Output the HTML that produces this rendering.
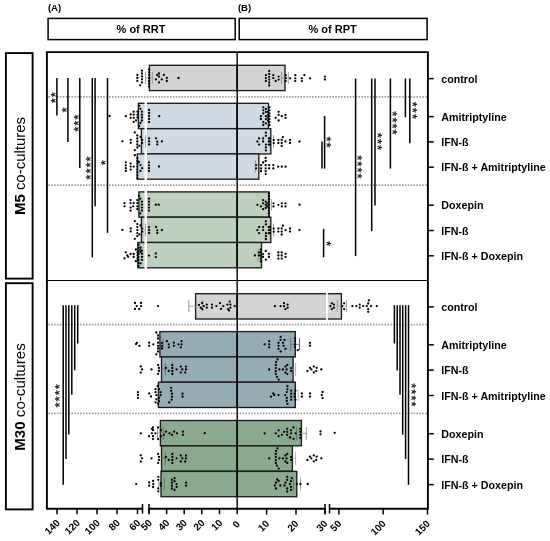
<!DOCTYPE html><html><head><meta charset="utf-8"><title>Figure</title><style>html,body{margin:0;padding:0;background:#fff;}svg{display:block;}text{font-family:'Liberation Sans', Arial, Helvetica, sans-serif;}</style></head><body>
<svg width="550" height="541" viewBox="0 0 550 541">
<rect width="550" height="541" fill="#fff"/>
<text x="47.9" y="10.6" font-size="9.6" font-weight="bold">(A)</text>
<text x="237.9" y="10.6" font-size="9.6" font-weight="bold">(B)</text>
<rect x="48.1" y="18.4" width="187.1" height="21.2" fill="none" stroke="#000" stroke-width="1.5"/>
<rect x="239.2" y="18.4" width="187.9" height="21.2" fill="none" stroke="#000" stroke-width="1.5"/>
<text x="141.0" y="33.2" font-size="11" font-weight="bold" text-anchor="middle">% of RRT</text>
<text x="332.6" y="33.2" font-size="11" font-weight="bold" text-anchor="middle">% of RPT</text>
<rect x="5.9" y="53.1" width="26.7" height="225.5" fill="none" stroke="#000" stroke-width="1.9"/>
<rect x="5.9" y="283.2" width="26.7" height="226.2" fill="none" stroke="#000" stroke-width="1.9"/>
<text transform="translate(25.0,166.0) rotate(-90) scale(1.055,1)" font-size="14.2" text-anchor="middle"><tspan font-weight="bold">M5</tspan> co-cultures</text>
<text transform="translate(25.0,397.0) rotate(-90) scale(1.065,1)" font-size="14.2" text-anchor="middle"><tspan font-weight="bold">M30</tspan> co-cultures</text>
<rect x="149.4" y="65.3" width="87.8" height="25.3" fill="#d4d4d4" stroke="#1c1c1c" stroke-width="1.35"/>
<rect x="237.2" y="65.3" width="47.8" height="25.3" fill="#d4d4d4" stroke="#1c1c1c" stroke-width="1.35"/>
<rect x="138.4" y="103.3" width="98.8" height="25.3" fill="#d0dae2" stroke="#1c1c1c" stroke-width="1.35"/>
<rect x="237.2" y="103.3" width="31.2" height="25.3" fill="#d0dae2" stroke="#1c1c1c" stroke-width="1.35"/>
<rect x="141.4" y="128.7" width="95.8" height="25.3" fill="#d0dae2" stroke="#1c1c1c" stroke-width="1.35"/>
<rect x="237.2" y="128.7" width="33.6" height="25.3" fill="#d0dae2" stroke="#1c1c1c" stroke-width="1.35"/>
<rect x="137.3" y="153.9" width="99.9" height="25.3" fill="#d0dae2" stroke="#1c1c1c" stroke-width="1.35"/>
<rect x="237.2" y="153.9" width="21.6" height="25.3" fill="#d0dae2" stroke="#1c1c1c" stroke-width="1.35"/>
<rect x="138.9" y="191.9" width="98.3" height="25.3" fill="#bdcfbd" stroke="#1c1c1c" stroke-width="1.35"/>
<rect x="237.2" y="191.9" width="31.9" height="25.3" fill="#bdcfbd" stroke="#1c1c1c" stroke-width="1.35"/>
<rect x="141.4" y="217.2" width="95.8" height="25.3" fill="#bdcfbd" stroke="#1c1c1c" stroke-width="1.35"/>
<rect x="237.2" y="217.2" width="33.6" height="25.3" fill="#bdcfbd" stroke="#1c1c1c" stroke-width="1.35"/>
<rect x="137.8" y="242.5" width="99.4" height="25.3" fill="#bdcfbd" stroke="#1c1c1c" stroke-width="1.35"/>
<rect x="237.2" y="242.5" width="24.3" height="25.3" fill="#bdcfbd" stroke="#1c1c1c" stroke-width="1.35"/>
<rect x="195.6" y="293.7" width="41.6" height="25.3" fill="#d4d4d4" stroke="#1c1c1c" stroke-width="1.35"/>
<rect x="237.2" y="293.7" width="104.2" height="25.3" fill="#d4d4d4" stroke="#1c1c1c" stroke-width="1.35"/>
<rect x="159.9" y="331.6" width="77.3" height="25.3" fill="#94acb4" stroke="#1c1c1c" stroke-width="1.35"/>
<rect x="237.2" y="331.6" width="58.1" height="25.3" fill="#94acb4" stroke="#1c1c1c" stroke-width="1.35"/>
<rect x="161.5" y="356.9" width="75.7" height="25.3" fill="#94acb4" stroke="#1c1c1c" stroke-width="1.35"/>
<rect x="237.2" y="356.9" width="55.9" height="25.3" fill="#94acb4" stroke="#1c1c1c" stroke-width="1.35"/>
<rect x="158.4" y="382.2" width="78.8" height="25.3" fill="#94acb4" stroke="#1c1c1c" stroke-width="1.35"/>
<rect x="237.2" y="382.2" width="58.1" height="25.3" fill="#94acb4" stroke="#1c1c1c" stroke-width="1.35"/>
<rect x="160.4" y="420.5" width="76.8" height="25.3" fill="#8aaa8e" stroke="#1c1c1c" stroke-width="1.35"/>
<rect x="237.2" y="420.5" width="64.2" height="25.3" fill="#8aaa8e" stroke="#1c1c1c" stroke-width="1.35"/>
<rect x="161.5" y="445.9" width="75.7" height="25.3" fill="#8aaa8e" stroke="#1c1c1c" stroke-width="1.35"/>
<rect x="237.2" y="445.9" width="55.2" height="25.3" fill="#8aaa8e" stroke="#1c1c1c" stroke-width="1.35"/>
<rect x="161.0" y="471.4" width="76.2" height="25.3" fill="#8aaa8e" stroke="#1c1c1c" stroke-width="1.35"/>
<rect x="237.2" y="471.4" width="59.6" height="25.3" fill="#8aaa8e" stroke="#1c1c1c" stroke-width="1.35"/>
<rect x="144.5" y="60" width="2.5" height="440" fill="#fff"/>
<rect x="326.1" y="60" width="1.8" height="440" fill="#fff"/>
<line x1="145.6" y1="72.0" x2="145.6" y2="84.0" stroke="#9a9a9a" stroke-width="1"/>
<line x1="152.4" y1="72.0" x2="152.4" y2="84.0" stroke="#9a9a9a" stroke-width="1"/>
<line x1="145.6" y1="135.2" x2="145.6" y2="147.7" stroke="#9a9a9a" stroke-width="1"/>
<line x1="145.6" y1="223.8" x2="145.6" y2="236.3" stroke="#9a9a9a" stroke-width="1"/>
<line x1="188.8" y1="300.1" x2="188.8" y2="312.0" stroke="#9a9a9a" stroke-width="1"/>
<line x1="202.8" y1="300.5" x2="202.8" y2="311.5" stroke="#8a8a8a" stroke-width="1"/>
<line x1="163.1" y1="338.5" x2="163.1" y2="350.0" stroke="#5f7a84" stroke-width="1"/>
<line x1="165.3" y1="363.1" x2="165.3" y2="375.9" stroke="#5f7a84" stroke-width="1"/>
<line x1="165.3" y1="452.0" x2="165.3" y2="464.8" stroke="#557a5c" stroke-width="1"/>
<line x1="157.5" y1="427.2" x2="157.5" y2="439.2" stroke="#9a9a9a" stroke-width="1"/>
<line x1="163.3" y1="427.2" x2="163.3" y2="439.7" stroke="#557a5c" stroke-width="1"/>
<line x1="158.8" y1="480.9" x2="158.8" y2="487.5" stroke="#9a9a9a" stroke-width="1"/>
<line x1="164.4" y1="477.6" x2="164.4" y2="490.2" stroke="#557a5c" stroke-width="1"/>
<line x1="281.5" y1="72.0" x2="281.5" y2="84.3" stroke="#9a9a9a" stroke-width="1"/>
<line x1="288.3" y1="72.1" x2="288.3" y2="84.0" stroke="#9a9a9a" stroke-width="1"/>
<line x1="273.5" y1="135.0" x2="273.5" y2="147.7" stroke="#9a9a9a" stroke-width="1"/>
<line x1="273.5" y1="223.6" x2="273.5" y2="236.3" stroke="#9a9a9a" stroke-width="1"/>
<line x1="255.3" y1="160.2" x2="255.3" y2="172.6" stroke="#9a9a9a" stroke-width="1"/>
<line x1="271.3" y1="199.0" x2="271.3" y2="210.5" stroke="#9a9a9a" stroke-width="1"/>
<line x1="258.1" y1="249.3" x2="258.1" y2="261.7" stroke="#9a9a9a" stroke-width="1"/>
<line x1="337.3" y1="300.0" x2="337.3" y2="312.0" stroke="#9a9a9a" stroke-width="1"/>
<line x1="346.4" y1="300.0" x2="346.4" y2="312.0" stroke="#9a9a9a" stroke-width="1"/>
<line x1="290.7" y1="338.2" x2="290.7" y2="350.7" stroke="#5f7a84" stroke-width="1"/>
<line x1="299.5" y1="338.2" x2="299.5" y2="350.2" stroke="#555" stroke-width="1"/>
<line x1="295.6" y1="363.0" x2="295.6" y2="376.0" stroke="#b0b0b0" stroke-width="1"/>
<line x1="295.6" y1="451.9" x2="295.6" y2="464.9" stroke="#b0b0b0" stroke-width="1"/>
<line x1="298.2" y1="389.2" x2="298.2" y2="401.3" stroke="#b0b0b0" stroke-width="1"/>
<line x1="296.6" y1="427.2" x2="296.6" y2="439.7" stroke="#557a5c" stroke-width="1"/>
<line x1="306.3" y1="427.2" x2="306.3" y2="439.7" stroke="#9a9a9a" stroke-width="1"/>
<line x1="293.5" y1="479.3" x2="293.5" y2="489.6" stroke="#557a5c" stroke-width="1"/>
<line x1="300.4" y1="477.5" x2="300.4" y2="490.5" stroke="#9a9a9a" stroke-width="1"/>
<line x1="145.6" y1="78.0" x2="152.4" y2="78.0" stroke="#9a9a9a" stroke-width="0.9"/>
<line x1="281.5" y1="78.1" x2="288.3" y2="78.1" stroke="#9a9a9a" stroke-width="0.9"/>
<line x1="137.0" y1="141.3" x2="145.6" y2="141.3" stroke="#c8c8c8" stroke-width="0.9"/>
<line x1="137.0" y1="229.9" x2="145.6" y2="229.9" stroke="#c8c8c8" stroke-width="0.9"/>
<line x1="188.8" y1="306.1" x2="196.0" y2="306.1" stroke="#9a9a9a" stroke-width="0.9"/>
<line x1="337.3" y1="306.1" x2="346.4" y2="306.1" stroke="#9a9a9a" stroke-width="0.9"/>
<line x1="161.5" y1="369.3" x2="165.3" y2="369.3" stroke="#5f7a84" stroke-width="0.9"/>
<line x1="161.5" y1="458.2" x2="165.3" y2="458.2" stroke="#557a5c" stroke-width="0.9"/>
<line x1="292.5" y1="369.5" x2="295.6" y2="369.5" stroke="#b0b0b0" stroke-width="0.9"/>
<line x1="292.5" y1="458.4" x2="295.6" y2="458.4" stroke="#b0b0b0" stroke-width="0.9"/>
<line x1="157.5" y1="433.0" x2="160.5" y2="433.0" stroke="#9a9a9a" stroke-width="0.9"/>
<line x1="301.0" y1="433.3" x2="306.3" y2="433.3" stroke="#9a9a9a" stroke-width="0.9"/>
<line x1="290.7" y1="344.3" x2="299.5" y2="344.3" stroke="#5f7a84" stroke-width="0.9"/>
<g fill="#000">
<circle cx="137.3" cy="75.1" r="1.15"/>
<circle cx="137.3" cy="77.9" r="1.15"/>
<circle cx="137.3" cy="80.9" r="1.15"/>
<circle cx="142.0" cy="70.7" r="1.15"/>
<circle cx="142.0" cy="73.5" r="1.15"/>
<circle cx="142.0" cy="76.4" r="1.15"/>
<circle cx="142.0" cy="79.3" r="1.15"/>
<circle cx="142.0" cy="82.4" r="1.15"/>
<circle cx="140.2" cy="85.3" r="1.15"/>
<circle cx="149.1" cy="69.3" r="1.15"/>
<circle cx="149.1" cy="72.2" r="1.15"/>
<circle cx="149.1" cy="75.1" r="1.15"/>
<circle cx="149.1" cy="78.0" r="1.15"/>
<circle cx="149.1" cy="80.9" r="1.15"/>
<circle cx="149.1" cy="83.7" r="1.15"/>
<circle cx="149.1" cy="86.6" r="1.15"/>
<circle cx="159.0" cy="73.5" r="1.15"/>
<circle cx="159.0" cy="76.6" r="1.15"/>
<circle cx="159.0" cy="82.4" r="1.15"/>
<circle cx="157.2" cy="75.0" r="1.15"/>
<circle cx="163.9" cy="75.0" r="1.15"/>
<circle cx="155.9" cy="79.4" r="1.15"/>
<circle cx="161.8" cy="79.4" r="1.15"/>
<circle cx="166.8" cy="77.9" r="1.15"/>
<circle cx="166.8" cy="81.0" r="1.15"/>
<circle cx="178.5" cy="78.0" r="1.15"/>
<circle cx="265.9" cy="75.2" r="1.15"/>
<circle cx="265.9" cy="78.1" r="1.15"/>
<circle cx="265.9" cy="81.0" r="1.15"/>
<circle cx="269.2" cy="70.9" r="1.15"/>
<circle cx="269.2" cy="73.9" r="1.15"/>
<circle cx="269.2" cy="76.8" r="1.15"/>
<circle cx="269.2" cy="79.6" r="1.15"/>
<circle cx="269.2" cy="82.5" r="1.15"/>
<circle cx="269.2" cy="85.5" r="1.15"/>
<circle cx="273.3" cy="75.2" r="1.15"/>
<circle cx="273.3" cy="78.1" r="1.15"/>
<circle cx="275.7" cy="81.0" r="1.15"/>
<circle cx="278.6" cy="76.6" r="1.15"/>
<circle cx="278.6" cy="79.6" r="1.15"/>
<circle cx="285.7" cy="75.2" r="1.15"/>
<circle cx="285.7" cy="78.2" r="1.15"/>
<circle cx="285.7" cy="81.1" r="1.15"/>
<circle cx="290.2" cy="78.3" r="1.15"/>
<circle cx="295.3" cy="75.2" r="1.15"/>
<circle cx="295.3" cy="78.3" r="1.15"/>
<circle cx="295.3" cy="81.1" r="1.15"/>
<circle cx="301.8" cy="78.3" r="1.15"/>
<circle cx="301.8" cy="81.1" r="1.15"/>
<circle cx="304.4" cy="75.2" r="1.15"/>
<circle cx="310.0" cy="78.3" r="1.15"/>
<circle cx="324.9" cy="76.6" r="1.15"/>
<circle cx="324.9" cy="79.5" r="1.15"/>
<circle cx="109.6" cy="116.0" r="1.15"/>
<circle cx="125.8" cy="116.2" r="1.15"/>
<circle cx="130.6" cy="114.5" r="1.15"/>
<circle cx="130.6" cy="117.8" r="1.15"/>
<circle cx="133.7" cy="111.7" r="1.15"/>
<circle cx="133.7" cy="114.7" r="1.15"/>
<circle cx="133.7" cy="117.8" r="1.15"/>
<circle cx="133.7" cy="121.9" r="1.15"/>
<circle cx="136.1" cy="120.4" r="1.15"/>
<circle cx="137.5" cy="111.7" r="1.15"/>
<circle cx="137.5" cy="114.7" r="1.15"/>
<circle cx="137.5" cy="117.5" r="1.15"/>
<circle cx="139.2" cy="105.8" r="1.15"/>
<circle cx="139.2" cy="126.0" r="1.15"/>
<circle cx="140.4" cy="108.8" r="1.15"/>
<circle cx="140.4" cy="123.0" r="1.15"/>
<circle cx="141.9" cy="111.7" r="1.15"/>
<circle cx="141.9" cy="114.7" r="1.15"/>
<circle cx="141.9" cy="117.5" r="1.15"/>
<circle cx="141.9" cy="120.5" r="1.15"/>
<circle cx="149.1" cy="110.0" r="1.15"/>
<circle cx="149.1" cy="113.0" r="1.15"/>
<circle cx="149.1" cy="115.9" r="1.15"/>
<circle cx="149.1" cy="118.9" r="1.15"/>
<circle cx="149.1" cy="122.0" r="1.15"/>
<circle cx="159.2" cy="116.2" r="1.15"/>
<circle cx="122.4" cy="141.3" r="1.15"/>
<circle cx="130.7" cy="139.8" r="1.15"/>
<circle cx="130.7" cy="142.8" r="1.15"/>
<circle cx="134.8" cy="132.5" r="1.15"/>
<circle cx="134.8" cy="150.2" r="1.15"/>
<circle cx="137.3" cy="135.5" r="1.15"/>
<circle cx="137.3" cy="138.5" r="1.15"/>
<circle cx="137.3" cy="141.5" r="1.15"/>
<circle cx="137.3" cy="144.5" r="1.15"/>
<circle cx="137.3" cy="147.5" r="1.15"/>
<circle cx="139.3" cy="145.8" r="1.15"/>
<circle cx="140.5" cy="136.9" r="1.15"/>
<circle cx="142.1" cy="140.0" r="1.15"/>
<circle cx="142.1" cy="142.9" r="1.15"/>
<circle cx="149.1" cy="138.5" r="1.15"/>
<circle cx="149.1" cy="141.4" r="1.15"/>
<circle cx="149.1" cy="144.4" r="1.15"/>
<circle cx="156.0" cy="138.3" r="1.15"/>
<circle cx="157.3" cy="141.7" r="1.15"/>
<circle cx="157.3" cy="144.4" r="1.15"/>
<circle cx="161.9" cy="141.4" r="1.15"/>
<circle cx="125.8" cy="162.3" r="1.15"/>
<circle cx="125.8" cy="165.3" r="1.15"/>
<circle cx="125.8" cy="168.2" r="1.15"/>
<circle cx="125.8" cy="171.0" r="1.15"/>
<circle cx="130.6" cy="163.6" r="1.15"/>
<circle cx="130.6" cy="166.6" r="1.15"/>
<circle cx="130.6" cy="169.6" r="1.15"/>
<circle cx="133.7" cy="166.6" r="1.15"/>
<circle cx="134.8" cy="155.2" r="1.15"/>
<circle cx="137.4" cy="158.2" r="1.15"/>
<circle cx="137.4" cy="160.9" r="1.15"/>
<circle cx="137.4" cy="163.6" r="1.15"/>
<circle cx="137.4" cy="166.6" r="1.15"/>
<circle cx="137.4" cy="169.6" r="1.15"/>
<circle cx="137.4" cy="172.4" r="1.15"/>
<circle cx="137.4" cy="175.4" r="1.15"/>
<circle cx="137.4" cy="178.2" r="1.15"/>
<circle cx="139.0" cy="162.0" r="1.15"/>
<circle cx="140.5" cy="165.1" r="1.15"/>
<circle cx="140.5" cy="171.0" r="1.15"/>
<circle cx="142.1" cy="168.2" r="1.15"/>
<circle cx="149.0" cy="162.3" r="1.15"/>
<circle cx="149.0" cy="165.3" r="1.15"/>
<circle cx="149.0" cy="168.2" r="1.15"/>
<circle cx="149.0" cy="171.0" r="1.15"/>
<circle cx="159.0" cy="166.5" r="1.15"/>
<circle cx="124.5" cy="203.1" r="1.15"/>
<circle cx="124.5" cy="206.3" r="1.15"/>
<circle cx="130.6" cy="200.1" r="1.15"/>
<circle cx="130.6" cy="203.1" r="1.15"/>
<circle cx="130.6" cy="207.6" r="1.15"/>
<circle cx="130.6" cy="210.6" r="1.15"/>
<circle cx="133.2" cy="206.3" r="1.15"/>
<circle cx="133.7" cy="203.1" r="1.15"/>
<circle cx="137.3" cy="200.1" r="1.15"/>
<circle cx="137.3" cy="203.1" r="1.15"/>
<circle cx="137.3" cy="206.3" r="1.15"/>
<circle cx="137.3" cy="209.2" r="1.15"/>
<circle cx="138.9" cy="196.0" r="1.15"/>
<circle cx="140.3" cy="198.7" r="1.15"/>
<circle cx="140.3" cy="213.5" r="1.15"/>
<circle cx="141.9" cy="201.7" r="1.15"/>
<circle cx="141.9" cy="204.6" r="1.15"/>
<circle cx="141.9" cy="207.6" r="1.15"/>
<circle cx="141.9" cy="210.6" r="1.15"/>
<circle cx="149.0" cy="198.7" r="1.15"/>
<circle cx="149.0" cy="201.7" r="1.15"/>
<circle cx="149.0" cy="204.6" r="1.15"/>
<circle cx="149.0" cy="207.6" r="1.15"/>
<circle cx="149.0" cy="210.6" r="1.15"/>
<circle cx="155.8" cy="204.7" r="1.15"/>
<circle cx="158.7" cy="204.7" r="1.15"/>
<circle cx="124.5" cy="258.3" r="1.15"/>
<circle cx="125.8" cy="252.3" r="1.15"/>
<circle cx="127.3" cy="255.3" r="1.15"/>
<circle cx="128.1" cy="256.8" r="1.15"/>
<circle cx="130.6" cy="254.0" r="1.15"/>
<circle cx="133.7" cy="254.0" r="1.15"/>
<circle cx="133.7" cy="256.9" r="1.15"/>
<circle cx="135.9" cy="249.5" r="1.15"/>
<circle cx="135.9" cy="261.2" r="1.15"/>
<circle cx="137.5" cy="252.5" r="1.15"/>
<circle cx="137.5" cy="255.5" r="1.15"/>
<circle cx="137.5" cy="258.5" r="1.15"/>
<circle cx="138.6" cy="244.8" r="1.15"/>
<circle cx="138.6" cy="247.8" r="1.15"/>
<circle cx="138.6" cy="250.8" r="1.15"/>
<circle cx="138.6" cy="254.1" r="1.15"/>
<circle cx="138.6" cy="257.1" r="1.15"/>
<circle cx="138.6" cy="260.1" r="1.15"/>
<circle cx="138.6" cy="263.1" r="1.15"/>
<circle cx="138.6" cy="266.1" r="1.15"/>
<circle cx="140.5" cy="247.5" r="1.15"/>
<circle cx="140.5" cy="249.7" r="1.15"/>
<circle cx="140.5" cy="252.2" r="1.15"/>
<circle cx="140.5" cy="263.4" r="1.15"/>
<circle cx="142.0" cy="250.8" r="1.15"/>
<circle cx="142.0" cy="253.8" r="1.15"/>
<circle cx="142.0" cy="256.8" r="1.15"/>
<circle cx="142.0" cy="259.8" r="1.15"/>
<circle cx="149.0" cy="255.6" r="1.15"/>
<circle cx="155.8" cy="253.5" r="1.15"/>
<circle cx="155.8" cy="257.1" r="1.15"/>
<circle cx="260.9" cy="116.2" r="1.15"/>
<circle cx="260.9" cy="119.0" r="1.15"/>
<circle cx="263.3" cy="107.3" r="1.15"/>
<circle cx="263.3" cy="110.3" r="1.15"/>
<circle cx="263.3" cy="113.4" r="1.15"/>
<circle cx="263.3" cy="121.9" r="1.15"/>
<circle cx="263.3" cy="125.0" r="1.15"/>
<circle cx="265.9" cy="108.9" r="1.15"/>
<circle cx="265.9" cy="111.9" r="1.15"/>
<circle cx="265.9" cy="116.2" r="1.15"/>
<circle cx="265.9" cy="119.2" r="1.15"/>
<circle cx="265.9" cy="123.3" r="1.15"/>
<circle cx="268.0" cy="111.9" r="1.15"/>
<circle cx="268.0" cy="114.8" r="1.15"/>
<circle cx="268.0" cy="117.7" r="1.15"/>
<circle cx="268.0" cy="120.6" r="1.15"/>
<circle cx="269.4" cy="107.3" r="1.15"/>
<circle cx="269.4" cy="110.3" r="1.15"/>
<circle cx="269.4" cy="113.4" r="1.15"/>
<circle cx="269.4" cy="116.2" r="1.15"/>
<circle cx="269.4" cy="119.2" r="1.15"/>
<circle cx="269.4" cy="121.9" r="1.15"/>
<circle cx="269.4" cy="125.0" r="1.15"/>
<circle cx="275.7" cy="117.8" r="1.15"/>
<circle cx="278.6" cy="111.8" r="1.15"/>
<circle cx="278.6" cy="114.9" r="1.15"/>
<circle cx="278.6" cy="120.5" r="1.15"/>
<circle cx="281.8" cy="116.2" r="1.15"/>
<circle cx="285.5" cy="114.9" r="1.15"/>
<circle cx="285.5" cy="117.8" r="1.15"/>
<circle cx="257.4" cy="141.5" r="1.15"/>
<circle cx="259.1" cy="138.4" r="1.15"/>
<circle cx="259.1" cy="144.6" r="1.15"/>
<circle cx="263.1" cy="138.4" r="1.15"/>
<circle cx="263.1" cy="141.5" r="1.15"/>
<circle cx="265.9" cy="132.7" r="1.15"/>
<circle cx="265.9" cy="135.8" r="1.15"/>
<circle cx="265.9" cy="144.6" r="1.15"/>
<circle cx="265.9" cy="147.4" r="1.15"/>
<circle cx="265.9" cy="150.4" r="1.15"/>
<circle cx="268.8" cy="138.4" r="1.15"/>
<circle cx="268.8" cy="141.5" r="1.15"/>
<circle cx="268.8" cy="144.6" r="1.15"/>
<circle cx="270.0" cy="138.4" r="1.15"/>
<circle cx="270.0" cy="141.5" r="1.15"/>
<circle cx="270.0" cy="144.6" r="1.15"/>
<circle cx="273.7" cy="140.0" r="1.15"/>
<circle cx="273.7" cy="143.1" r="1.15"/>
<circle cx="278.4" cy="139.9" r="1.15"/>
<circle cx="278.4" cy="143.0" r="1.15"/>
<circle cx="281.7" cy="139.9" r="1.15"/>
<circle cx="281.7" cy="143.0" r="1.15"/>
<circle cx="281.7" cy="145.9" r="1.15"/>
<circle cx="282.9" cy="137.1" r="1.15"/>
<circle cx="285.5" cy="141.5" r="1.15"/>
<circle cx="290.0" cy="139.9" r="1.15"/>
<circle cx="290.0" cy="143.0" r="1.15"/>
<circle cx="299.5" cy="141.5" r="1.15"/>
<circle cx="256.1" cy="165.1" r="1.15"/>
<circle cx="256.1" cy="168.4" r="1.15"/>
<circle cx="261.0" cy="165.1" r="1.15"/>
<circle cx="261.0" cy="168.4" r="1.15"/>
<circle cx="261.0" cy="171.2" r="1.15"/>
<circle cx="263.1" cy="162.5" r="1.15"/>
<circle cx="265.7" cy="157.9" r="1.15"/>
<circle cx="265.7" cy="161.0" r="1.15"/>
<circle cx="265.7" cy="165.1" r="1.15"/>
<circle cx="265.7" cy="168.4" r="1.15"/>
<circle cx="265.7" cy="171.2" r="1.15"/>
<circle cx="265.7" cy="174.1" r="1.15"/>
<circle cx="269.1" cy="165.1" r="1.15"/>
<circle cx="269.1" cy="168.4" r="1.15"/>
<circle cx="273.3" cy="165.1" r="1.15"/>
<circle cx="273.3" cy="168.4" r="1.15"/>
<circle cx="278.2" cy="166.7" r="1.15"/>
<circle cx="281.8" cy="166.7" r="1.15"/>
<circle cx="285.5" cy="166.7" r="1.15"/>
<circle cx="257.4" cy="204.8" r="1.15"/>
<circle cx="260.9" cy="206.4" r="1.15"/>
<circle cx="263.1" cy="200.2" r="1.15"/>
<circle cx="263.1" cy="203.3" r="1.15"/>
<circle cx="263.1" cy="209.2" r="1.15"/>
<circle cx="265.7" cy="201.7" r="1.15"/>
<circle cx="265.7" cy="204.8" r="1.15"/>
<circle cx="265.7" cy="207.9" r="1.15"/>
<circle cx="267.2" cy="203.3" r="1.15"/>
<circle cx="267.2" cy="206.4" r="1.15"/>
<circle cx="268.9" cy="193.4" r="1.15"/>
<circle cx="268.9" cy="196.2" r="1.15"/>
<circle cx="268.9" cy="199.0" r="1.15"/>
<circle cx="268.9" cy="201.7" r="1.15"/>
<circle cx="268.9" cy="204.8" r="1.15"/>
<circle cx="268.9" cy="207.9" r="1.15"/>
<circle cx="268.9" cy="210.7" r="1.15"/>
<circle cx="268.9" cy="213.5" r="1.15"/>
<circle cx="268.9" cy="216.3" r="1.15"/>
<circle cx="273.5" cy="203.3" r="1.15"/>
<circle cx="273.5" cy="206.4" r="1.15"/>
<circle cx="278.4" cy="204.8" r="1.15"/>
<circle cx="281.8" cy="203.3" r="1.15"/>
<circle cx="281.8" cy="206.4" r="1.15"/>
<circle cx="285.5" cy="203.3" r="1.15"/>
<circle cx="285.5" cy="206.4" r="1.15"/>
<circle cx="299.5" cy="204.7" r="1.15"/>
<circle cx="254.9" cy="255.5" r="1.15"/>
<circle cx="258.9" cy="252.4" r="1.15"/>
<circle cx="258.9" cy="255.5" r="1.15"/>
<circle cx="260.8" cy="249.6" r="1.15"/>
<circle cx="260.8" cy="252.4" r="1.15"/>
<circle cx="260.8" cy="255.5" r="1.15"/>
<circle cx="260.8" cy="258.6" r="1.15"/>
<circle cx="260.8" cy="261.4" r="1.15"/>
<circle cx="263.1" cy="254.1" r="1.15"/>
<circle cx="263.1" cy="256.9" r="1.15"/>
<circle cx="265.8" cy="251.0" r="1.15"/>
<circle cx="265.8" cy="259.7" r="1.15"/>
<circle cx="268.9" cy="253.8" r="1.15"/>
<circle cx="268.9" cy="256.9" r="1.15"/>
<circle cx="278.4" cy="252.4" r="1.15"/>
<circle cx="278.4" cy="255.5" r="1.15"/>
<circle cx="278.4" cy="258.6" r="1.15"/>
<circle cx="281.7" cy="252.4" r="1.15"/>
<circle cx="281.7" cy="255.5" r="1.15"/>
<circle cx="281.7" cy="258.6" r="1.15"/>
<circle cx="285.5" cy="253.8" r="1.15"/>
<circle cx="285.5" cy="256.9" r="1.15"/>
<circle cx="135.0" cy="303.0" r="1.15"/>
<circle cx="135.0" cy="309.0" r="1.15"/>
<circle cx="136.7" cy="306.1" r="1.15"/>
<circle cx="139.2" cy="309.0" r="1.15"/>
<circle cx="141.0" cy="303.0" r="1.15"/>
<circle cx="141.0" cy="306.1" r="1.15"/>
<circle cx="158.0" cy="306.1" r="1.15"/>
<circle cx="199.0" cy="304.9" r="1.15"/>
<circle cx="200.7" cy="307.7" r="1.15"/>
<circle cx="202.1" cy="303.0" r="1.15"/>
<circle cx="202.1" cy="309.1" r="1.15"/>
<circle cx="203.8" cy="306.1" r="1.15"/>
<circle cx="206.8" cy="304.6" r="1.15"/>
<circle cx="206.8" cy="307.7" r="1.15"/>
<circle cx="212.0" cy="304.6" r="1.15"/>
<circle cx="212.0" cy="307.7" r="1.15"/>
<circle cx="216.4" cy="306.1" r="1.15"/>
<circle cx="220.0" cy="303.2" r="1.15"/>
<circle cx="221.0" cy="308.9" r="1.15"/>
<circle cx="223.3" cy="306.1" r="1.15"/>
<circle cx="227.4" cy="304.6" r="1.15"/>
<circle cx="228.1" cy="309.1" r="1.15"/>
<circle cx="229.0" cy="310.5" r="1.15"/>
<circle cx="229.7" cy="301.6" r="1.15"/>
<circle cx="230.4" cy="304.6" r="1.15"/>
<circle cx="230.4" cy="307.7" r="1.15"/>
<circle cx="234.7" cy="306.1" r="1.15"/>
<circle cx="274.9" cy="306.2" r="1.15"/>
<circle cx="280.6" cy="306.2" r="1.15"/>
<circle cx="284.0" cy="303.2" r="1.15"/>
<circle cx="284.0" cy="306.2" r="1.15"/>
<circle cx="285.4" cy="309.2" r="1.15"/>
<circle cx="287.6" cy="304.7" r="1.15"/>
<circle cx="287.6" cy="307.7" r="1.15"/>
<circle cx="330.4" cy="306.1" r="1.15"/>
<circle cx="331.8" cy="303.3" r="1.15"/>
<circle cx="331.8" cy="309.1" r="1.15"/>
<circle cx="333.9" cy="304.6" r="1.15"/>
<circle cx="333.9" cy="307.7" r="1.15"/>
<circle cx="342.2" cy="306.1" r="1.15"/>
<circle cx="344.1" cy="303.3" r="1.15"/>
<circle cx="344.1" cy="309.1" r="1.15"/>
<circle cx="352.4" cy="306.1" r="1.15"/>
<circle cx="356.4" cy="306.1" r="1.15"/>
<circle cx="359.7" cy="304.6" r="1.15"/>
<circle cx="359.7" cy="307.7" r="1.15"/>
<circle cx="363.2" cy="306.1" r="1.15"/>
<circle cx="366.8" cy="306.1" r="1.15"/>
<circle cx="368.2" cy="303.5" r="1.15"/>
<circle cx="368.2" cy="309.1" r="1.15"/>
<circle cx="368.2" cy="311.8" r="1.15"/>
<circle cx="368.8" cy="300.4" r="1.15"/>
<circle cx="371.0" cy="306.1" r="1.15"/>
<circle cx="376.7" cy="306.1" r="1.15"/>
<circle cx="136.0" cy="344.1" r="1.15"/>
<circle cx="136.9" cy="342.8" r="1.15"/>
<circle cx="139.4" cy="345.8" r="1.15"/>
<circle cx="149.1" cy="342.7" r="1.15"/>
<circle cx="149.1" cy="345.8" r="1.15"/>
<circle cx="153.3" cy="344.3" r="1.15"/>
<circle cx="156.3" cy="332.5" r="1.15"/>
<circle cx="156.3" cy="354.3" r="1.15"/>
<circle cx="158.0" cy="335.5" r="1.15"/>
<circle cx="158.0" cy="338.5" r="1.15"/>
<circle cx="158.0" cy="342.7" r="1.15"/>
<circle cx="158.0" cy="345.8" r="1.15"/>
<circle cx="158.0" cy="348.5" r="1.15"/>
<circle cx="158.0" cy="351.5" r="1.15"/>
<circle cx="161.9" cy="342.8" r="1.15"/>
<circle cx="161.9" cy="345.8" r="1.15"/>
<circle cx="161.9" cy="348.5" r="1.15"/>
<circle cx="166.9" cy="341.2" r="1.15"/>
<circle cx="168.8" cy="344.3" r="1.15"/>
<circle cx="168.8" cy="347.3" r="1.15"/>
<circle cx="173.9" cy="342.7" r="1.15"/>
<circle cx="173.9" cy="345.8" r="1.15"/>
<circle cx="178.4" cy="344.3" r="1.15"/>
<circle cx="181.5" cy="341.2" r="1.15"/>
<circle cx="181.5" cy="344.3" r="1.15"/>
<circle cx="180.8" cy="347.3" r="1.15"/>
<circle cx="140.8" cy="366.4" r="1.15"/>
<circle cx="140.8" cy="372.6" r="1.15"/>
<circle cx="142.1" cy="369.4" r="1.15"/>
<circle cx="151.5" cy="369.4" r="1.15"/>
<circle cx="158.1" cy="365.0" r="1.15"/>
<circle cx="158.1" cy="374.0" r="1.15"/>
<circle cx="159.0" cy="368.0" r="1.15"/>
<circle cx="159.0" cy="371.0" r="1.15"/>
<circle cx="165.9" cy="368.0" r="1.15"/>
<circle cx="168.8" cy="371.0" r="1.15"/>
<circle cx="172.3" cy="365.0" r="1.15"/>
<circle cx="172.3" cy="368.0" r="1.15"/>
<circle cx="172.3" cy="371.0" r="1.15"/>
<circle cx="172.3" cy="374.0" r="1.15"/>
<circle cx="176.6" cy="369.4" r="1.15"/>
<circle cx="180.8" cy="366.6" r="1.15"/>
<circle cx="180.8" cy="372.6" r="1.15"/>
<circle cx="182.3" cy="369.4" r="1.15"/>
<circle cx="186.0" cy="366.6" r="1.15"/>
<circle cx="186.0" cy="369.4" r="1.15"/>
<circle cx="185.2" cy="372.6" r="1.15"/>
<circle cx="137.9" cy="392.2" r="1.15"/>
<circle cx="137.9" cy="394.9" r="1.15"/>
<circle cx="137.9" cy="397.9" r="1.15"/>
<circle cx="149.2" cy="393.5" r="1.15"/>
<circle cx="151.0" cy="396.5" r="1.15"/>
<circle cx="155.5" cy="389.2" r="1.15"/>
<circle cx="155.5" cy="392.2" r="1.15"/>
<circle cx="155.5" cy="402.3" r="1.15"/>
<circle cx="156.4" cy="395.2" r="1.15"/>
<circle cx="156.4" cy="399.3" r="1.15"/>
<circle cx="157.6" cy="386.2" r="1.15"/>
<circle cx="158.0" cy="403.6" r="1.15"/>
<circle cx="159.0" cy="389.2" r="1.15"/>
<circle cx="159.0" cy="397.9" r="1.15"/>
<circle cx="159.0" cy="401.2" r="1.15"/>
<circle cx="160.6" cy="392.2" r="1.15"/>
<circle cx="160.6" cy="395.2" r="1.15"/>
<circle cx="171.2" cy="387.8" r="1.15"/>
<circle cx="171.2" cy="390.8" r="1.15"/>
<circle cx="172.0" cy="393.7" r="1.15"/>
<circle cx="172.0" cy="396.7" r="1.15"/>
<circle cx="171.6" cy="399.7" r="1.15"/>
<circle cx="169.2" cy="402.4" r="1.15"/>
<circle cx="182.5" cy="393.7" r="1.15"/>
<circle cx="182.5" cy="396.7" r="1.15"/>
<circle cx="140.8" cy="433.3" r="1.15"/>
<circle cx="149.0" cy="436.2" r="1.15"/>
<circle cx="151.9" cy="428.8" r="1.15"/>
<circle cx="151.9" cy="433.3" r="1.15"/>
<circle cx="153.0" cy="427.5" r="1.15"/>
<circle cx="153.0" cy="430.2" r="1.15"/>
<circle cx="153.0" cy="436.2" r="1.15"/>
<circle cx="153.0" cy="439.1" r="1.15"/>
<circle cx="155.4" cy="433.3" r="1.15"/>
<circle cx="158.1" cy="427.5" r="1.15"/>
<circle cx="158.1" cy="439.1" r="1.15"/>
<circle cx="160.8" cy="430.2" r="1.15"/>
<circle cx="160.8" cy="436.2" r="1.15"/>
<circle cx="163.9" cy="434.8" r="1.15"/>
<circle cx="166.0" cy="431.7" r="1.15"/>
<circle cx="169.5" cy="433.3" r="1.15"/>
<circle cx="172.0" cy="434.8" r="1.15"/>
<circle cx="174.1" cy="431.7" r="1.15"/>
<circle cx="177.0" cy="433.3" r="1.15"/>
<circle cx="182.9" cy="431.7" r="1.15"/>
<circle cx="182.9" cy="434.8" r="1.15"/>
<circle cx="204.7" cy="433.2" r="1.15"/>
<circle cx="136.2" cy="484.1" r="1.15"/>
<circle cx="149.2" cy="482.5" r="1.15"/>
<circle cx="149.2" cy="485.7" r="1.15"/>
<circle cx="153.1" cy="480.9" r="1.15"/>
<circle cx="153.1" cy="484.1" r="1.15"/>
<circle cx="153.1" cy="487.0" r="1.15"/>
<circle cx="158.3" cy="476.8" r="1.15"/>
<circle cx="158.3" cy="479.8" r="1.15"/>
<circle cx="158.3" cy="488.5" r="1.15"/>
<circle cx="158.3" cy="491.3" r="1.15"/>
<circle cx="160.7" cy="483.1" r="1.15"/>
<circle cx="160.7" cy="485.5" r="1.15"/>
<circle cx="171.9" cy="479.7" r="1.15"/>
<circle cx="171.9" cy="482.7" r="1.15"/>
<circle cx="171.9" cy="485.7" r="1.15"/>
<circle cx="171.9" cy="488.5" r="1.15"/>
<circle cx="174.5" cy="478.2" r="1.15"/>
<circle cx="174.5" cy="481.2" r="1.15"/>
<circle cx="174.5" cy="489.9" r="1.15"/>
<circle cx="176.6" cy="484.1" r="1.15"/>
<circle cx="176.6" cy="487.0" r="1.15"/>
<circle cx="186.1" cy="482.7" r="1.15"/>
<circle cx="186.1" cy="485.7" r="1.15"/>
<circle cx="264.6" cy="344.3" r="1.15"/>
<circle cx="269.2" cy="341.2" r="1.15"/>
<circle cx="269.2" cy="344.3" r="1.15"/>
<circle cx="269.2" cy="347.3" r="1.15"/>
<circle cx="278.5" cy="342.8" r="1.15"/>
<circle cx="278.5" cy="345.8" r="1.15"/>
<circle cx="278.5" cy="348.8" r="1.15"/>
<circle cx="280.6" cy="336.8" r="1.15"/>
<circle cx="280.6" cy="339.9" r="1.15"/>
<circle cx="280.6" cy="351.5" r="1.15"/>
<circle cx="282.9" cy="342.8" r="1.15"/>
<circle cx="283.6" cy="345.8" r="1.15"/>
<circle cx="284.5" cy="339.9" r="1.15"/>
<circle cx="285.5" cy="348.8" r="1.15"/>
<circle cx="295.1" cy="338.5" r="1.15"/>
<circle cx="295.1" cy="341.3" r="1.15"/>
<circle cx="295.1" cy="344.3" r="1.15"/>
<circle cx="295.1" cy="347.2" r="1.15"/>
<circle cx="297.8" cy="350.1" r="1.15"/>
<circle cx="310.0" cy="342.8" r="1.15"/>
<circle cx="310.0" cy="345.7" r="1.15"/>
<circle cx="269.2" cy="369.5" r="1.15"/>
<circle cx="277.5" cy="359.4" r="1.15"/>
<circle cx="276.1" cy="362.1" r="1.15"/>
<circle cx="275.8" cy="365.0" r="1.15"/>
<circle cx="275.8" cy="368.1" r="1.15"/>
<circle cx="275.8" cy="371.2" r="1.15"/>
<circle cx="275.8" cy="374.1" r="1.15"/>
<circle cx="276.9" cy="376.8" r="1.15"/>
<circle cx="278.7" cy="379.7" r="1.15"/>
<circle cx="279.4" cy="369.5" r="1.15"/>
<circle cx="282.9" cy="369.5" r="1.15"/>
<circle cx="285.4" cy="366.6" r="1.15"/>
<circle cx="285.4" cy="372.6" r="1.15"/>
<circle cx="287.3" cy="365.0" r="1.15"/>
<circle cx="287.3" cy="374.1" r="1.15"/>
<circle cx="286.6" cy="369.5" r="1.15"/>
<circle cx="291.1" cy="368.1" r="1.15"/>
<circle cx="291.1" cy="371.0" r="1.15"/>
<circle cx="307.4" cy="371.1" r="1.15"/>
<circle cx="309.9" cy="367.8" r="1.15"/>
<circle cx="311.4" cy="369.4" r="1.15"/>
<circle cx="313.8" cy="366.5" r="1.15"/>
<circle cx="313.8" cy="372.5" r="1.15"/>
<circle cx="316.7" cy="367.8" r="1.15"/>
<circle cx="316.2" cy="371.1" r="1.15"/>
<circle cx="321.3" cy="369.4" r="1.15"/>
<circle cx="271.0" cy="396.7" r="1.15"/>
<circle cx="273.3" cy="393.5" r="1.15"/>
<circle cx="274.3" cy="395.1" r="1.15"/>
<circle cx="278.5" cy="395.1" r="1.15"/>
<circle cx="285.3" cy="395.1" r="1.15"/>
<circle cx="287.4" cy="386.2" r="1.15"/>
<circle cx="287.4" cy="389.3" r="1.15"/>
<circle cx="287.4" cy="403.9" r="1.15"/>
<circle cx="286.8" cy="392.2" r="1.15"/>
<circle cx="286.8" cy="398.0" r="1.15"/>
<circle cx="286.8" cy="400.9" r="1.15"/>
<circle cx="291.2" cy="390.7" r="1.15"/>
<circle cx="291.2" cy="393.7" r="1.15"/>
<circle cx="291.2" cy="396.7" r="1.15"/>
<circle cx="291.2" cy="399.7" r="1.15"/>
<circle cx="294.5" cy="393.7" r="1.15"/>
<circle cx="294.5" cy="396.7" r="1.15"/>
<circle cx="295.4" cy="390.7" r="1.15"/>
<circle cx="295.4" cy="399.7" r="1.15"/>
<circle cx="301.8" cy="393.4" r="1.15"/>
<circle cx="301.8" cy="396.7" r="1.15"/>
<circle cx="310.0" cy="393.4" r="1.15"/>
<circle cx="310.0" cy="396.7" r="1.15"/>
<circle cx="322.6" cy="392.0" r="1.15"/>
<circle cx="322.6" cy="398.1" r="1.15"/>
<circle cx="321.8" cy="395.1" r="1.15"/>
<circle cx="264.6" cy="433.3" r="1.15"/>
<circle cx="275.7" cy="433.3" r="1.15"/>
<circle cx="278.6" cy="430.3" r="1.15"/>
<circle cx="278.6" cy="436.2" r="1.15"/>
<circle cx="281.9" cy="434.8" r="1.15"/>
<circle cx="284.1" cy="431.8" r="1.15"/>
<circle cx="287.2" cy="428.8" r="1.15"/>
<circle cx="287.2" cy="431.8" r="1.15"/>
<circle cx="287.2" cy="434.8" r="1.15"/>
<circle cx="289.9" cy="437.5" r="1.15"/>
<circle cx="291.0" cy="430.3" r="1.15"/>
<circle cx="291.0" cy="433.3" r="1.15"/>
<circle cx="290.2" cy="437.3" r="1.15"/>
<circle cx="293.5" cy="427.5" r="1.15"/>
<circle cx="293.5" cy="438.9" r="1.15"/>
<circle cx="295.6" cy="433.3" r="1.15"/>
<circle cx="300.3" cy="428.8" r="1.15"/>
<circle cx="300.3" cy="431.8" r="1.15"/>
<circle cx="300.3" cy="434.8" r="1.15"/>
<circle cx="300.3" cy="437.8" r="1.15"/>
<circle cx="320.5" cy="431.4" r="1.15"/>
<circle cx="320.5" cy="434.3" r="1.15"/>
<circle cx="334.7" cy="432.8" r="1.15"/>
<circle cx="276.0" cy="482.7" r="1.15"/>
<circle cx="276.0" cy="488.5" r="1.15"/>
<circle cx="274.9" cy="485.5" r="1.15"/>
<circle cx="277.2" cy="479.5" r="1.15"/>
<circle cx="278.6" cy="480.9" r="1.15"/>
<circle cx="280.3" cy="485.5" r="1.15"/>
<circle cx="284.5" cy="485.5" r="1.15"/>
<circle cx="285.5" cy="482.7" r="1.15"/>
<circle cx="287.2" cy="476.8" r="1.15"/>
<circle cx="287.2" cy="479.8" r="1.15"/>
<circle cx="287.2" cy="488.5" r="1.15"/>
<circle cx="287.2" cy="491.5" r="1.15"/>
<circle cx="289.9" cy="484.1" r="1.15"/>
<circle cx="291.0" cy="481.2" r="1.15"/>
<circle cx="291.0" cy="487.0" r="1.15"/>
<circle cx="291.0" cy="489.9" r="1.15"/>
<circle cx="291.8" cy="478.2" r="1.15"/>
<circle cx="297.0" cy="484.1" r="1.15"/>
<circle cx="300.4" cy="484.0" r="1.15"/>
<circle cx="307.7" cy="484.0" r="1.15"/>
<circle cx="122.4" cy="229.9" r="1.15"/>
<circle cx="130.7" cy="228.4" r="1.15"/>
<circle cx="130.7" cy="231.4" r="1.15"/>
<circle cx="134.8" cy="221.1" r="1.15"/>
<circle cx="134.8" cy="238.8" r="1.15"/>
<circle cx="137.3" cy="224.1" r="1.15"/>
<circle cx="137.3" cy="227.1" r="1.15"/>
<circle cx="137.3" cy="230.1" r="1.15"/>
<circle cx="137.3" cy="233.1" r="1.15"/>
<circle cx="137.3" cy="236.1" r="1.15"/>
<circle cx="139.3" cy="234.4" r="1.15"/>
<circle cx="140.5" cy="225.5" r="1.15"/>
<circle cx="142.1" cy="228.6" r="1.15"/>
<circle cx="142.1" cy="231.5" r="1.15"/>
<circle cx="149.1" cy="227.1" r="1.15"/>
<circle cx="149.1" cy="230.0" r="1.15"/>
<circle cx="149.1" cy="233.0" r="1.15"/>
<circle cx="156.0" cy="226.9" r="1.15"/>
<circle cx="157.3" cy="230.3" r="1.15"/>
<circle cx="157.3" cy="233.0" r="1.15"/>
<circle cx="161.9" cy="230.0" r="1.15"/>
<circle cx="257.4" cy="230.1" r="1.15"/>
<circle cx="259.1" cy="227.0" r="1.15"/>
<circle cx="259.1" cy="233.2" r="1.15"/>
<circle cx="263.1" cy="227.0" r="1.15"/>
<circle cx="263.1" cy="230.1" r="1.15"/>
<circle cx="265.9" cy="221.3" r="1.15"/>
<circle cx="265.9" cy="224.4" r="1.15"/>
<circle cx="265.9" cy="233.2" r="1.15"/>
<circle cx="265.9" cy="236.0" r="1.15"/>
<circle cx="265.9" cy="239.0" r="1.15"/>
<circle cx="268.8" cy="227.0" r="1.15"/>
<circle cx="268.8" cy="230.1" r="1.15"/>
<circle cx="268.8" cy="233.2" r="1.15"/>
<circle cx="270.0" cy="227.0" r="1.15"/>
<circle cx="270.0" cy="230.1" r="1.15"/>
<circle cx="270.0" cy="233.2" r="1.15"/>
<circle cx="273.7" cy="228.6" r="1.15"/>
<circle cx="273.7" cy="231.7" r="1.15"/>
<circle cx="278.4" cy="228.5" r="1.15"/>
<circle cx="278.4" cy="231.6" r="1.15"/>
<circle cx="281.7" cy="228.5" r="1.15"/>
<circle cx="281.7" cy="231.6" r="1.15"/>
<circle cx="281.7" cy="234.5" r="1.15"/>
<circle cx="282.9" cy="225.7" r="1.15"/>
<circle cx="285.5" cy="230.1" r="1.15"/>
<circle cx="290.0" cy="228.5" r="1.15"/>
<circle cx="290.0" cy="231.6" r="1.15"/>
<circle cx="299.5" cy="230.1" r="1.15"/>
<circle cx="140.8" cy="455.3" r="1.15"/>
<circle cx="140.8" cy="461.5" r="1.15"/>
<circle cx="142.1" cy="458.3" r="1.15"/>
<circle cx="151.5" cy="458.3" r="1.15"/>
<circle cx="158.1" cy="453.9" r="1.15"/>
<circle cx="158.1" cy="462.9" r="1.15"/>
<circle cx="159.0" cy="456.9" r="1.15"/>
<circle cx="159.0" cy="459.9" r="1.15"/>
<circle cx="165.9" cy="456.9" r="1.15"/>
<circle cx="168.8" cy="459.9" r="1.15"/>
<circle cx="172.3" cy="453.9" r="1.15"/>
<circle cx="172.3" cy="456.9" r="1.15"/>
<circle cx="172.3" cy="459.9" r="1.15"/>
<circle cx="172.3" cy="462.9" r="1.15"/>
<circle cx="176.6" cy="458.3" r="1.15"/>
<circle cx="180.8" cy="455.5" r="1.15"/>
<circle cx="180.8" cy="461.5" r="1.15"/>
<circle cx="182.3" cy="458.3" r="1.15"/>
<circle cx="186.0" cy="455.5" r="1.15"/>
<circle cx="186.0" cy="458.3" r="1.15"/>
<circle cx="185.2" cy="461.5" r="1.15"/>
<circle cx="269.2" cy="458.4" r="1.15"/>
<circle cx="277.5" cy="448.3" r="1.15"/>
<circle cx="276.1" cy="451.0" r="1.15"/>
<circle cx="275.8" cy="453.9" r="1.15"/>
<circle cx="275.8" cy="457.0" r="1.15"/>
<circle cx="275.8" cy="460.1" r="1.15"/>
<circle cx="275.8" cy="463.0" r="1.15"/>
<circle cx="276.9" cy="465.7" r="1.15"/>
<circle cx="278.7" cy="468.6" r="1.15"/>
<circle cx="279.4" cy="458.4" r="1.15"/>
<circle cx="282.9" cy="458.4" r="1.15"/>
<circle cx="285.4" cy="455.5" r="1.15"/>
<circle cx="285.4" cy="461.5" r="1.15"/>
<circle cx="287.3" cy="453.9" r="1.15"/>
<circle cx="287.3" cy="463.0" r="1.15"/>
<circle cx="286.6" cy="458.4" r="1.15"/>
<circle cx="291.1" cy="457.0" r="1.15"/>
<circle cx="291.1" cy="459.9" r="1.15"/>
<circle cx="307.4" cy="460.0" r="1.15"/>
<circle cx="309.9" cy="456.7" r="1.15"/>
<circle cx="311.4" cy="458.3" r="1.15"/>
<circle cx="313.8" cy="455.4" r="1.15"/>
<circle cx="313.8" cy="461.4" r="1.15"/>
<circle cx="316.7" cy="456.7" r="1.15"/>
<circle cx="316.2" cy="460.0" r="1.15"/>
<circle cx="321.3" cy="458.3" r="1.15"/>
</g>
<line x1="48.2" y1="96.8" x2="427" y2="96.8" stroke="#9c9c9c" stroke-width="1.8" stroke-dasharray="1.5 1.4"/>
<line x1="48.2" y1="185.1" x2="427" y2="185.1" stroke="#9c9c9c" stroke-width="1.8" stroke-dasharray="1.5 1.4"/>
<line x1="48.2" y1="324.6" x2="427" y2="324.6" stroke="#9c9c9c" stroke-width="1.8" stroke-dasharray="1.5 1.4"/>
<line x1="48.2" y1="413.4" x2="427" y2="413.4" stroke="#9c9c9c" stroke-width="1.8" stroke-dasharray="1.5 1.4"/>
<line x1="47" y1="280.5" x2="428" y2="280.5" stroke="#000" stroke-width="1"/>
<path d="M46.9 508.8 V52.1 H427.9 V508.8" fill="none" stroke="#000" stroke-width="1.9"/>
<line x1="237.2" y1="52" x2="237.2" y2="509" stroke="#000" stroke-width="1.4"/>
<line x1="46" y1="508.8" x2="143" y2="508.8" stroke="#000" stroke-width="1.9"/>
<line x1="148.4" y1="508.8" x2="325.3" y2="508.8" stroke="#000" stroke-width="1.9"/>
<line x1="329.3" y1="508.8" x2="428.8" y2="508.8" stroke="#000" stroke-width="1.9"/>
<line x1="142.5" y1="504" x2="142.5" y2="513.6" stroke="#000" stroke-width="1.5"/>
<line x1="149.0" y1="504" x2="149.0" y2="513.6" stroke="#000" stroke-width="1.5"/>
<line x1="325.0" y1="504" x2="325.0" y2="513.6" stroke="#000" stroke-width="1.5"/>
<line x1="329.5" y1="504" x2="329.5" y2="513.6" stroke="#000" stroke-width="1.5"/>
<line x1="57" y1="508" x2="57" y2="514.2" stroke="#000" stroke-width="1.5"/>
<text transform="translate(60.6,523.5) rotate(-45)" font-size="10" font-weight="bold" text-anchor="end">140</text>
<line x1="77" y1="508" x2="77" y2="514.2" stroke="#000" stroke-width="1.5"/>
<text transform="translate(80.6,523.5) rotate(-45)" font-size="10" font-weight="bold" text-anchor="end">120</text>
<line x1="97" y1="508" x2="97" y2="514.2" stroke="#000" stroke-width="1.5"/>
<text transform="translate(100.6,523.5) rotate(-45)" font-size="10" font-weight="bold" text-anchor="end">100</text>
<line x1="117" y1="508" x2="117" y2="514.2" stroke="#000" stroke-width="1.5"/>
<text transform="translate(120.6,523.5) rotate(-45)" font-size="10" font-weight="bold" text-anchor="end">80</text>
<line x1="137.5" y1="508" x2="137.5" y2="514.2" stroke="#000" stroke-width="1.5"/>
<text transform="translate(141.1,523.5) rotate(-45)" font-size="10" font-weight="bold" text-anchor="end">60</text>
<line x1="149.0" y1="508" x2="149.0" y2="514.2" stroke="#000" stroke-width="1.5"/>
<text transform="translate(152.6,523.5) rotate(-45)" font-size="10" font-weight="bold" text-anchor="end">50</text>
<line x1="166.6" y1="508" x2="166.6" y2="514.2" stroke="#000" stroke-width="1.5"/>
<text transform="translate(170.2,523.5) rotate(-45)" font-size="10" font-weight="bold" text-anchor="end">40</text>
<line x1="184.2" y1="508" x2="184.2" y2="514.2" stroke="#000" stroke-width="1.5"/>
<text transform="translate(187.8,523.5) rotate(-45)" font-size="10" font-weight="bold" text-anchor="end">30</text>
<line x1="201.8" y1="508" x2="201.8" y2="514.2" stroke="#000" stroke-width="1.5"/>
<text transform="translate(205.4,523.5) rotate(-45)" font-size="10" font-weight="bold" text-anchor="end">20</text>
<line x1="219.5" y1="508" x2="219.5" y2="514.2" stroke="#000" stroke-width="1.5"/>
<text transform="translate(223.1,523.5) rotate(-45)" font-size="10" font-weight="bold" text-anchor="end">10</text>
<line x1="237.2" y1="508" x2="237.2" y2="514.2" stroke="#000" stroke-width="1.5"/>
<text transform="translate(240.7,524.7) rotate(-45)" font-size="10" font-weight="bold" text-anchor="end">0</text>
<line x1="266.6" y1="508" x2="266.6" y2="514.6" stroke="#000" stroke-width="1.5"/>
<text transform="translate(269.9,524.3) rotate(-45)" font-size="10" font-weight="bold" text-anchor="end">10</text>
<line x1="296.0" y1="508" x2="296.0" y2="514.6" stroke="#000" stroke-width="1.5"/>
<text transform="translate(299.3,524.3) rotate(-45)" font-size="10" font-weight="bold" text-anchor="end">20</text>
<line x1="325.0" y1="508" x2="325.0" y2="514.6" stroke="#000" stroke-width="1.5"/>
<text transform="translate(328.3,524.3) rotate(-45)" font-size="10" font-weight="bold" text-anchor="end">30</text>
<line x1="338.9" y1="508" x2="338.9" y2="514.6" stroke="#000" stroke-width="1.5"/>
<text transform="translate(342.2,524.3) rotate(-45)" font-size="10" font-weight="bold" text-anchor="end">50</text>
<line x1="383.2" y1="508" x2="383.2" y2="514.6" stroke="#000" stroke-width="1.5"/>
<text transform="translate(386.5,524.3) rotate(-45)" font-size="10" font-weight="bold" text-anchor="end">100</text>
<line x1="427.5" y1="508" x2="427.5" y2="514.6" stroke="#000" stroke-width="1.5"/>
<text transform="translate(430.8,524.3) rotate(-45)" font-size="10" font-weight="bold" text-anchor="end">150</text>
<line x1="428" y1="78.6" x2="433.8" y2="78.6" stroke="#000" stroke-width="1.5"/>
<text x="441.3" y="82.7" font-size="10.7" font-weight="bold">control</text>
<line x1="428" y1="116.6" x2="433.8" y2="116.6" stroke="#000" stroke-width="1.5"/>
<text x="441.3" y="120.7" font-size="10.7" font-weight="bold">Amitriptyline</text>
<line x1="428" y1="141.9" x2="433.8" y2="141.9" stroke="#000" stroke-width="1.5"/>
<text x="441.3" y="146.0" font-size="10.7" font-weight="bold">IFN-ß</text>
<line x1="428" y1="167.2" x2="433.8" y2="167.2" stroke="#000" stroke-width="1.5"/>
<text x="441.3" y="171.3" font-size="10.7" font-weight="bold">IFN-ß + Amitriptyline</text>
<line x1="428" y1="205.2" x2="433.8" y2="205.2" stroke="#000" stroke-width="1.5"/>
<text x="441.3" y="209.3" font-size="10.7" font-weight="bold">Doxepin</text>
<line x1="428" y1="230.5" x2="433.8" y2="230.5" stroke="#000" stroke-width="1.5"/>
<text x="441.3" y="234.6" font-size="10.7" font-weight="bold">IFN-ß</text>
<line x1="428" y1="255.8" x2="433.8" y2="255.8" stroke="#000" stroke-width="1.5"/>
<text x="441.3" y="259.9" font-size="10.7" font-weight="bold">IFN-ß + Doxepin</text>
<line x1="428" y1="306.9" x2="433.8" y2="306.9" stroke="#000" stroke-width="1.5"/>
<text x="441.3" y="311.0" font-size="10.7" font-weight="bold">control</text>
<line x1="428" y1="344.8" x2="433.8" y2="344.8" stroke="#000" stroke-width="1.5"/>
<text x="441.3" y="348.9" font-size="10.7" font-weight="bold">Amitriptyline</text>
<line x1="428" y1="370.1" x2="433.8" y2="370.1" stroke="#000" stroke-width="1.5"/>
<text x="441.3" y="374.2" font-size="10.7" font-weight="bold">IFN-ß</text>
<line x1="428" y1="395.5" x2="433.8" y2="395.5" stroke="#000" stroke-width="1.5"/>
<text x="441.3" y="399.6" font-size="10.7" font-weight="bold">IFN-ß + Amitriptyline</text>
<line x1="428" y1="433.7" x2="433.8" y2="433.7" stroke="#000" stroke-width="1.5"/>
<text x="441.3" y="437.8" font-size="10.7" font-weight="bold">Doxepin</text>
<line x1="428" y1="459.1" x2="433.8" y2="459.1" stroke="#000" stroke-width="1.5"/>
<text x="441.3" y="463.2" font-size="10.7" font-weight="bold">IFN-ß</text>
<line x1="428" y1="484.6" x2="433.8" y2="484.6" stroke="#000" stroke-width="1.5"/>
<text x="441.3" y="488.7" font-size="10.7" font-weight="bold">IFN-ß + Doxepin</text>
<line x1="56.9" y1="78" x2="56.9" y2="115.5" stroke="#000" stroke-width="1.5"/>
<line x1="67.9" y1="78" x2="67.9" y2="142" stroke="#000" stroke-width="1.5"/>
<line x1="79.8" y1="78" x2="79.8" y2="168" stroke="#000" stroke-width="1.5"/>
<line x1="92.3" y1="78" x2="92.3" y2="257.4" stroke="#000" stroke-width="1.5"/>
<line x1="95.1" y1="78" x2="95.1" y2="206.2" stroke="#000" stroke-width="1.5"/>
<line x1="107.5" y1="78" x2="107.5" y2="232.8" stroke="#000" stroke-width="1.5"/>
<line x1="355.6" y1="78.5" x2="355.6" y2="256.1" stroke="#000" stroke-width="1.5"/>
<line x1="371.7" y1="78.5" x2="371.7" y2="231.1" stroke="#000" stroke-width="1.5"/>
<line x1="375.0" y1="78.5" x2="375.0" y2="205.5" stroke="#000" stroke-width="1.5"/>
<line x1="390.4" y1="78.5" x2="390.4" y2="168.6" stroke="#000" stroke-width="1.5"/>
<line x1="405.4" y1="78.5" x2="405.4" y2="117.3" stroke="#000" stroke-width="1.5"/>
<line x1="409.8" y1="78.5" x2="409.8" y2="143.2" stroke="#000" stroke-width="1.5"/>
<line x1="322.0" y1="141.6" x2="322.0" y2="168.6" stroke="#000" stroke-width="1.5"/>
<line x1="324.6" y1="115.9" x2="324.6" y2="168.6" stroke="#000" stroke-width="1.5"/>
<line x1="323.6" y1="228.9" x2="323.6" y2="257.3" stroke="#000" stroke-width="1.5"/>
<line x1="63.2" y1="305.2" x2="63.2" y2="484.8" stroke="#000" stroke-width="1.5"/>
<line x1="66.0" y1="305.2" x2="66.0" y2="459.0" stroke="#000" stroke-width="1.5"/>
<line x1="68.8" y1="305.2" x2="68.8" y2="434.6" stroke="#000" stroke-width="1.5"/>
<line x1="71.8" y1="305.2" x2="71.8" y2="394.7" stroke="#000" stroke-width="1.5"/>
<line x1="74.7" y1="305.2" x2="74.7" y2="370.4" stroke="#000" stroke-width="1.5"/>
<line x1="77.7" y1="305.2" x2="77.7" y2="343.5" stroke="#000" stroke-width="1.5"/>
<line x1="394.4" y1="305.2" x2="394.4" y2="343.5" stroke="#000" stroke-width="1.5"/>
<line x1="397.2" y1="305.2" x2="397.2" y2="370.4" stroke="#000" stroke-width="1.5"/>
<line x1="400.0" y1="305.2" x2="400.0" y2="394.7" stroke="#000" stroke-width="1.5"/>
<line x1="402.7" y1="305.2" x2="402.7" y2="434.6" stroke="#000" stroke-width="1.5"/>
<line x1="405.6" y1="305.2" x2="405.6" y2="459.0" stroke="#000" stroke-width="1.5"/>
<line x1="408.5" y1="305.2" x2="408.5" y2="484.8" stroke="#000" stroke-width="1.5"/>
<rect x="50.3" y="91.5" width="5.2" height="11.5" fill="#fff"/>
<text transform="translate(52.8,97.2) rotate(-90)" font-size="13" text-anchor="middle" dy="6.7" letter-spacing="1.05" stroke="#000" stroke-width="0.2">**</text>
<text transform="translate(63.8,109.5) rotate(-90)" font-size="13" text-anchor="middle" dy="6.7" letter-spacing="1.05" stroke="#000" stroke-width="0.2">*</text>
<text transform="translate(76.0,122.7) rotate(-90)" font-size="13" text-anchor="middle" dy="6.7" letter-spacing="1.05" stroke="#000" stroke-width="0.2">***</text>
<text transform="translate(88.4,167.5) rotate(-90)" font-size="13" text-anchor="middle" dy="6.7" letter-spacing="1.05" stroke="#000" stroke-width="0.2">****</text>
<text transform="translate(103.5,162.2) rotate(-90)" font-size="13" text-anchor="middle" dy="6.7" letter-spacing="1.05" stroke="#000" stroke-width="0.2">*</text>
<text transform="translate(414.6,110.9) rotate(90)" font-size="13" text-anchor="middle" dy="6.7" letter-spacing="1.05" stroke="#000" stroke-width="0.2">***</text>
<text transform="translate(394.9,123.5) rotate(90)" font-size="13" text-anchor="middle" dy="6.7" letter-spacing="1.05" stroke="#000" stroke-width="0.2">****</text>
<text transform="translate(379.3,142.0) rotate(90)" font-size="13" text-anchor="middle" dy="6.7" letter-spacing="1.05" stroke="#000" stroke-width="0.2">***</text>
<text transform="translate(360.0,167.4) rotate(90)" font-size="13" text-anchor="middle" dy="6.7" letter-spacing="1.05" stroke="#000" stroke-width="0.2">****</text>
<text transform="translate(328.8,142.6) rotate(90)" font-size="13" text-anchor="middle" dy="6.7" letter-spacing="1.05" stroke="#000" stroke-width="0.2">**</text>
<text transform="translate(328.4,244.0) rotate(90)" font-size="13" text-anchor="middle" dy="6.7" letter-spacing="1.05" stroke="#000" stroke-width="0.2">*</text>
<text transform="translate(56.8,395.3) rotate(-90)" font-size="13" text-anchor="middle" dy="6.7" letter-spacing="1.05" stroke="#000" stroke-width="0.2">****</text>
<text transform="translate(414.2,395.4) rotate(90)" font-size="13" text-anchor="middle" dy="6.7" letter-spacing="1.05" stroke="#000" stroke-width="0.2">****</text>
</svg></body></html>
